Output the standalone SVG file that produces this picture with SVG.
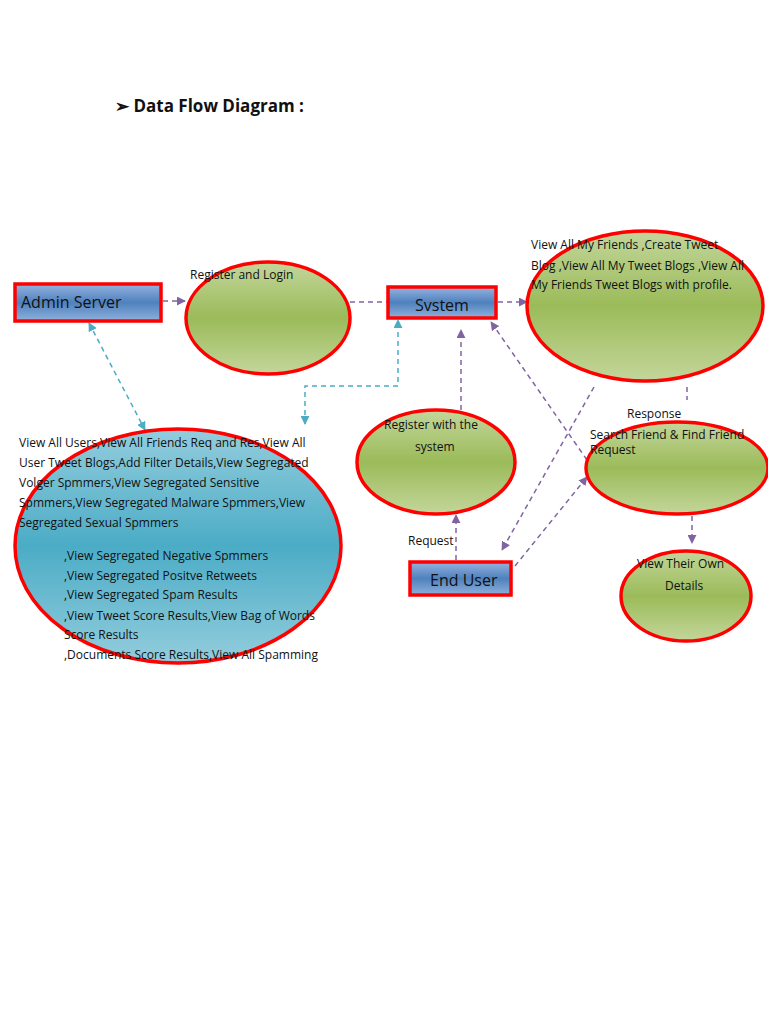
<svg xmlns="http://www.w3.org/2000/svg" width="768" height="1024" viewBox="0 0 768 1024">
<style>
text{font-family:"Open Sans","Liberation Sans",sans-serif;font-size:12px;fill:#111}
.box{stroke:#f00;stroke-width:3.5}
.ell{stroke:#f00;stroke-width:3.5}
.p{stroke:#8064a2;stroke-width:1.5;stroke-dasharray:5 4;fill:none}
.c{stroke:#4bacc6;stroke-width:1.5;stroke-dasharray:5 4;fill:none}
.bt{font-size:16px}
</style>
<defs>
<linearGradient id="bl" x1="0" y1="0" x2="0" y2="1"><stop offset="0" stop-color="#95b3e0"/><stop offset="0.5" stop-color="#4f81bd"/><stop offset="1" stop-color="#8fb0dc"/></linearGradient>
<linearGradient id="gr" x1="0" y1="0" x2="0" y2="1"><stop offset="0" stop-color="#c3d69b"/><stop offset="0.5" stop-color="#9bbb59"/><stop offset="1" stop-color="#c3d69b"/></linearGradient>
<linearGradient id="cy" x1="0" y1="0" x2="0" y2="1"><stop offset="0" stop-color="#93cddd"/><stop offset="0.5" stop-color="#4bacc6"/><stop offset="1" stop-color="#93cddd"/></linearGradient>
<marker id="ap" viewBox="0 0 10 10" refX="9" refY="5" markerWidth="6" markerHeight="6" orient="auto-start-reverse"><path d="M0,0L10,5L0,10z" fill="#8064a2"/></marker>
<marker id="ac" viewBox="0 0 10 10" refX="9" refY="5" markerWidth="6" markerHeight="6" orient="auto-start-reverse"><path d="M0,0L10,5L0,10z" fill="#4bacc6"/></marker>
</defs>
<text x="115" y="112" style="font-size:17px;font-weight:bold">➢  Data Flow Diagram  :</text>
<g id="connectors">
<line class="p" x1="163" y1="301" x2="185" y2="301" marker-end="url(#ap)"/>
<line class="p" x1="350" y1="302" x2="388" y2="302"/>
<line class="p" x1="498" y1="302" x2="527" y2="302" marker-end="url(#ap)"/>
<line class="c" x1="89" y1="323" x2="145" y2="430" marker-start="url(#ac)" marker-end="url(#ac)"/>
<polyline class="c" points="305,424 305,386 398,386 398,320" marker-start="url(#ac)" marker-end="url(#ac)"/>
<line class="p" x1="461" y1="410" x2="461" y2="330" marker-end="url(#ap)"/>
<line class="p" x1="456" y1="560" x2="456" y2="515" marker-end="url(#ap)"/>
<line class="p" x1="594" y1="387" x2="502" y2="550" marker-end="url(#ap)"/>
<line class="p" x1="515" y1="566" x2="587" y2="477" marker-end="url(#ap)"/>
<line class="p" x1="587" y1="460" x2="491" y2="322" marker-end="url(#ap)"/>
<line class="p" x1="687" y1="387" x2="687" y2="400"/>
<line class="p" x1="692" y1="516" x2="692" y2="543" marker-end="url(#ap)"/>
</g>
<g id="admin"><rect class="box" x="15" y="284" width="146" height="37" fill="url(#bl)"/><text class="bt" x="21" y="308">Admin Server</text></g>
<g id="login"><ellipse class="ell" cx="268" cy="318" rx="82" ry="56" fill="url(#gr)"/><text x="190" y="279">Register and Login</text></g>
<g id="system"><rect class="box" x="388" y="287" width="108" height="31" fill="url(#bl)"/><text class="bt" x="415" y="311">Svstem</text></g>
<g id="friends"><ellipse class="ell" cx="645" cy="306" rx="118" ry="75" fill="url(#gr)"/>
<text x="531" y="249">View All My Friends ,Create Tweet</text>
<text x="531" y="270">Blog ,View All My Tweet Blogs ,View All</text>
<text x="531" y="289">My Friends Tweet Blogs with profile.</text></g>
<g id="adminfn"><ellipse class="ell" cx="178" cy="546" rx="163" ry="117" fill="url(#cy)"/>
<text x="19" y="447">View All Users,View All Friends Req and Res,View All</text>
<text x="19" y="467">User Tweet Blogs,Add Filter Details,View Segregated</text>
<text x="19" y="487">Volger Spmmers,View Segregated Sensitive</text>
<text x="19" y="507">Spmmers,View Segregated Malware Spmmers,View</text>
<text x="19" y="527">Segregated Sexual Spmmers</text>
<text x="64" y="560">,View Segregated Negative Spmmers</text>
<text x="64" y="580">,View Segregated Positve Retweets</text>
<text x="64" y="599">,View Segregated Spam Results</text>
<text x="64" y="620">,View Tweet Score Results,View Bag of Words</text>
<text x="64" y="639">Score Results</text>
<text x="64" y="659">,Documents Score Results,View All Spamming</text></g>
<g id="register"><ellipse class="ell" cx="436" cy="462" rx="79" ry="52" fill="url(#gr)"/>
<text x="384" y="429">Register with the</text><text x="415" y="451">system</text></g>
<g id="enduser"><rect class="box" x="410" y="562" width="101" height="33" fill="url(#bl)"/><text class="bt" x="430" y="586">End User</text></g>
<text x="408" y="545">Request</text>
<text x="627" y="418">Response</text>
<g id="search"><ellipse class="ell" cx="677" cy="468" rx="91" ry="46" fill="url(#gr)"/>
<text x="590" y="439">Search Friend &amp; Find Friend</text><text x="590" y="454">Request</text></g>
<g id="details"><ellipse class="ell" cx="686" cy="596" rx="65" ry="45" fill="url(#gr)"/>
<text x="637" y="568">View Their Own</text><text x="665" y="590">Details</text></g>
</svg>
